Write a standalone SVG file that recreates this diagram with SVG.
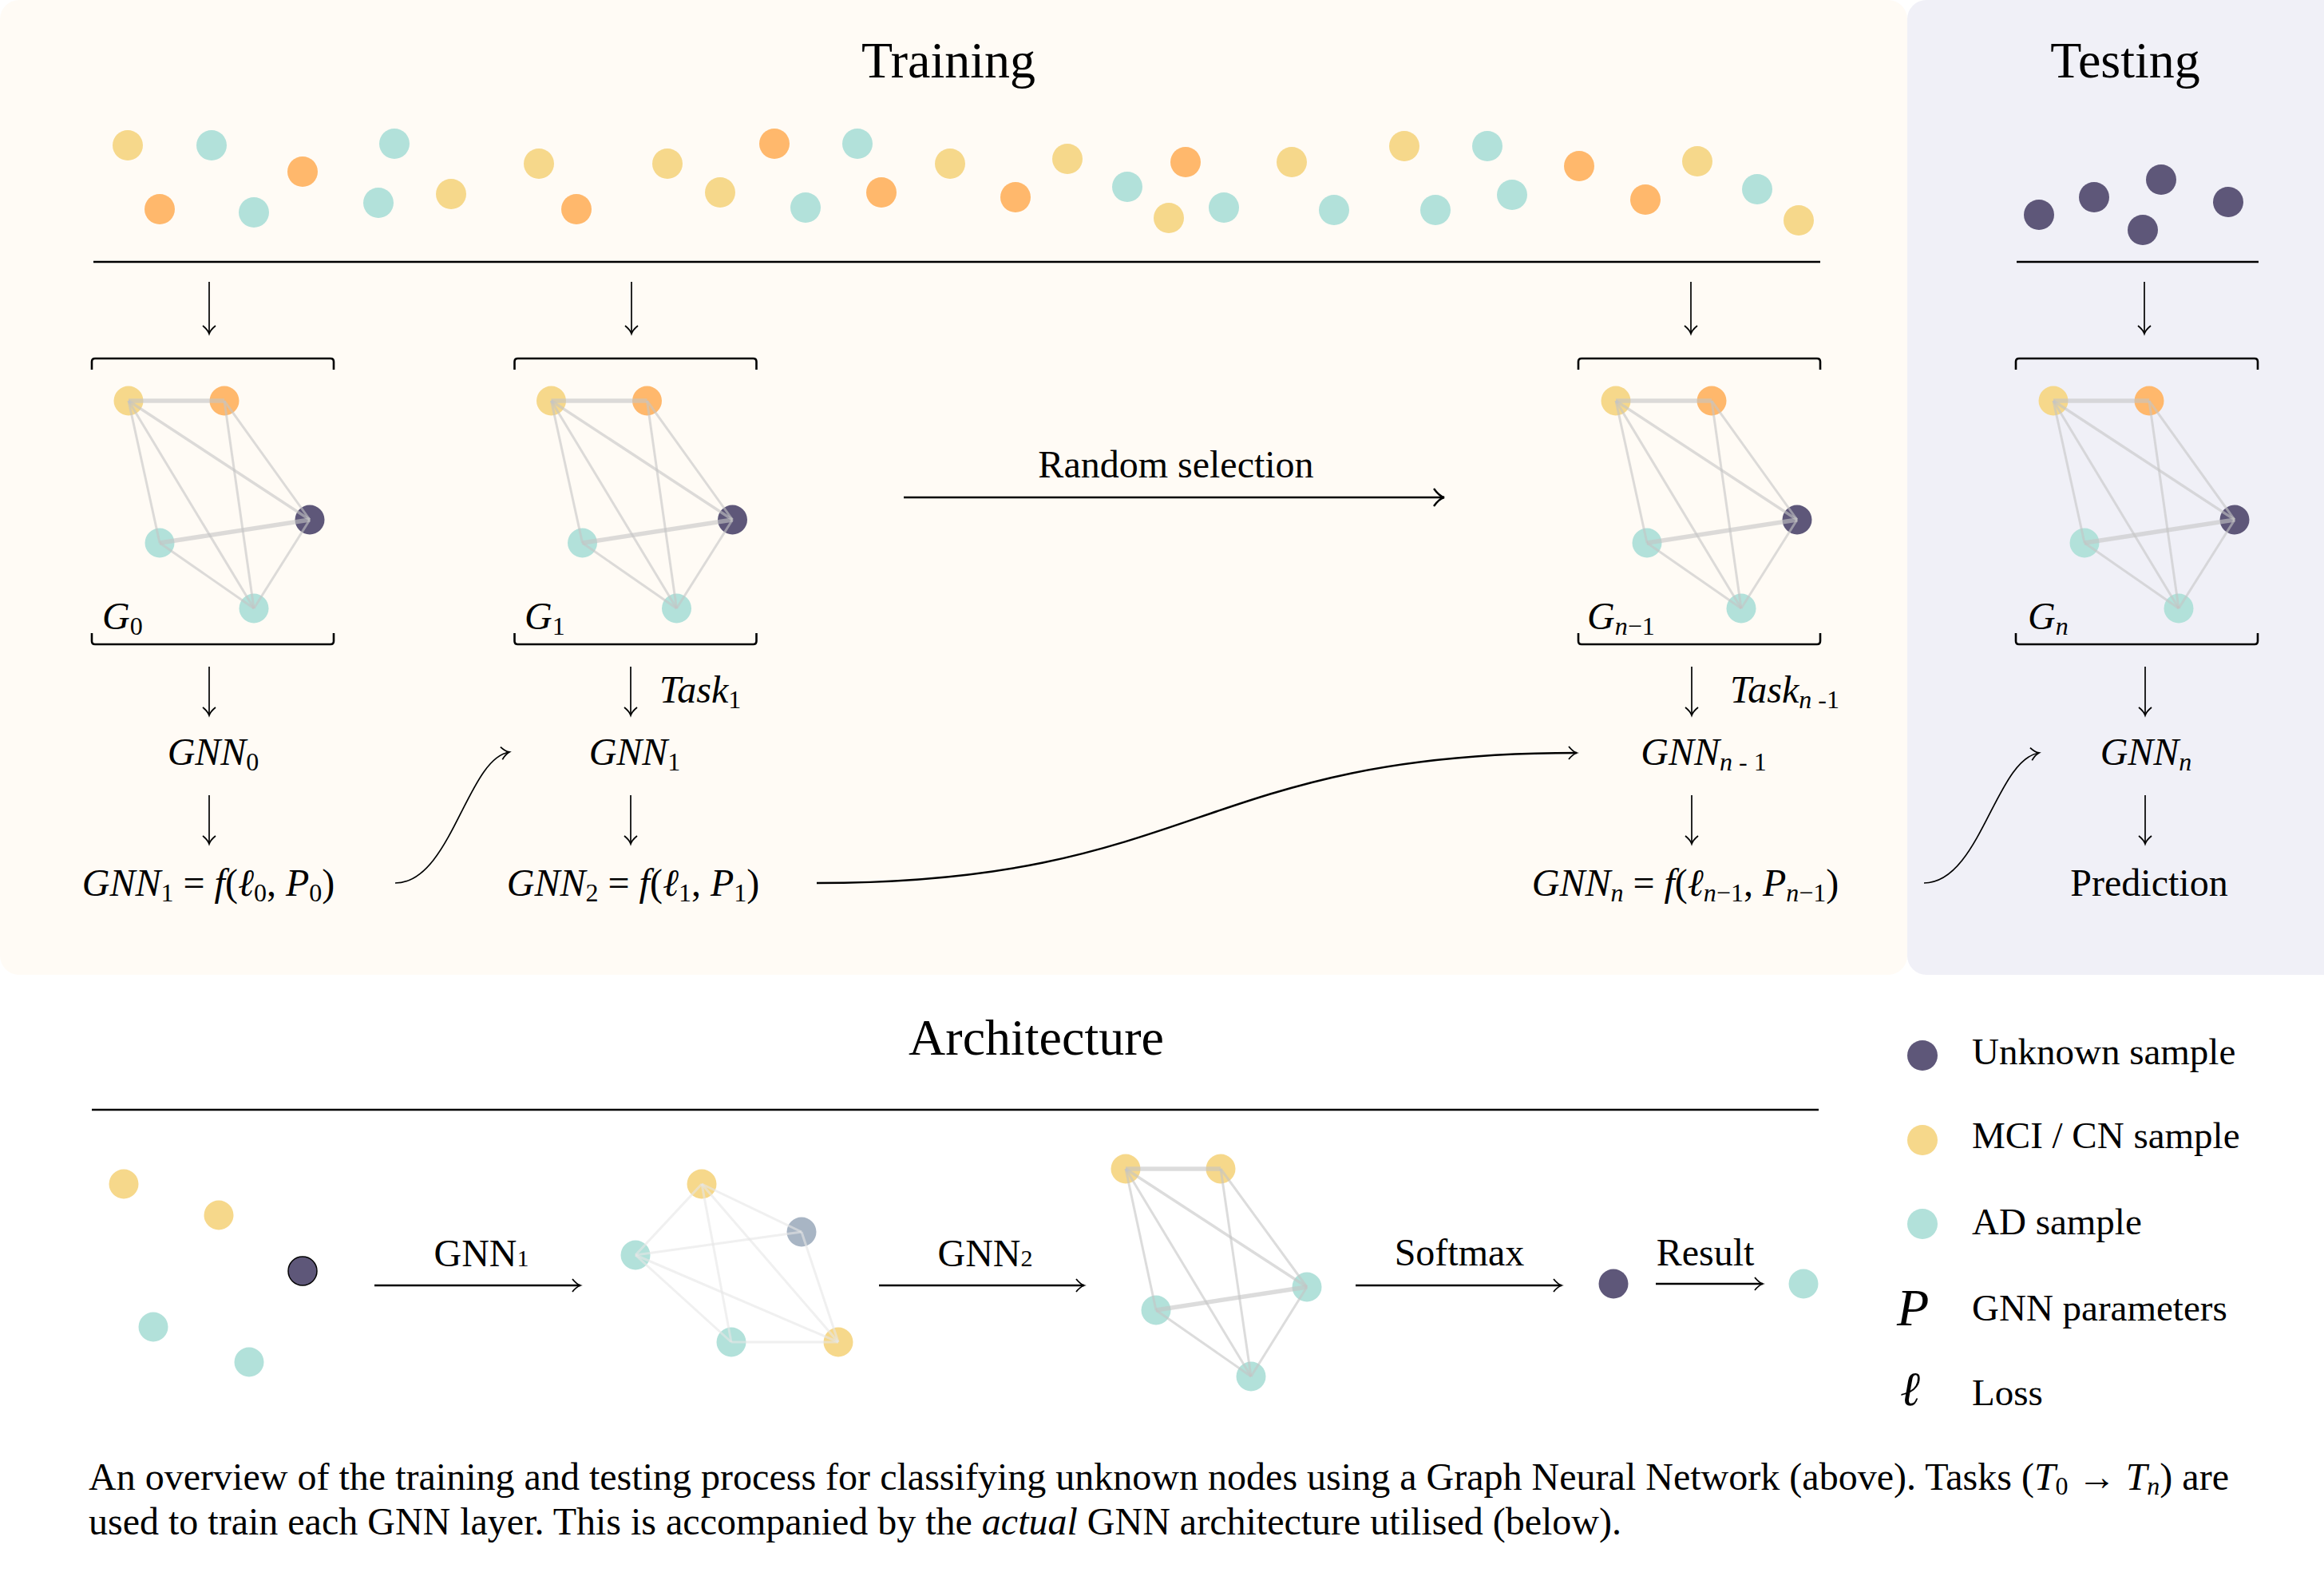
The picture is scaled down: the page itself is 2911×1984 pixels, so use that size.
<svg xmlns="http://www.w3.org/2000/svg" xmlns:xlink="http://www.w3.org/1999/xlink" width="2911" height="1984" viewBox="0 0 2911 1984">
<defs>
<style>
.t{font-family:"Liberation Serif","DejaVu Serif",serif;fill:#000}
.mi{font-style:italic}
.title{font-size:64px}
.txt{font-size:48px}
.lg{font-size:47px}
.cap{font-size:48px}
.sub{font-size:32px;font-style:normal}
.si{font-size:32px;font-style:italic}
.y{fill:#f6d88b}
.o{fill:#ffb86c}
.c{fill:#b2e1da}
.d{fill:#5e5779}
.gb{fill:#a8b5c4}
.e{stroke:#c4c4c4;stroke-opacity:.6;stroke-width:3;fill:none}
.ew{stroke-width:5.5}
.em{stroke-width:3.5}
.ef{stroke:#e6e6e6;stroke-opacity:.6;stroke-width:3;fill:none}
.rule{stroke:#000;stroke-width:2.6;fill:none}
.ar{stroke:#000;stroke-width:1.7;fill:none}
.ar2{stroke:#000;stroke-width:2.5;fill:none}
.br{stroke:#000;stroke-width:2.6;fill:none}
</style>
<marker id="ah" markerUnits="userSpaceOnUse" markerWidth="30" markerHeight="30" viewBox="-15 -15 30 30" refX="0" refY="0" orient="auto" overflow="visible">
<path d="M-10,-8 C-6,-3 -3,-1 0,0 C-3,1 -6,3 -10,8" stroke="#000" stroke-width="1.8" fill="none"/>
</marker>
<marker id="ahL" markerUnits="userSpaceOnUse" markerWidth="30" markerHeight="30" viewBox="-15 -15 30 30" refX="0" refY="0" orient="auto" overflow="visible">
<path d="M-13,-11 C-8,-4 -4,-1 0,0 C-4,1 -8,4 -13,11" stroke="#000" stroke-width="2.4" fill="none"/>
</marker>
<g id="graph">
<circle class="y" cx="0" cy="0" r="18.5"/>
<circle class="o" cx="120" cy="0" r="18.5"/>
<circle class="d" cx="227" cy="149" r="18.5"/>
<circle class="c" cx="39" cy="178" r="18.5"/>
<circle class="c" cx="157" cy="260" r="18.5"/>
<path class="e ew" d="M0,0 L120,0"/>
<path class="e" d="M0,0 L39,178"/>
<path class="e" d="M0,0 L157,260"/>
<path class="e em" d="M0,0 L227,149"/>
<path class="e" d="M120,0 L157,260"/>
<path class="e" d="M120,0 L227,149"/>
<path class="e ew" d="M39,178 L227,149"/>
<path class="e" d="M39,178 L157,260"/>
<path class="e" d="M227,149 L157,260"/>
</g>
<g id="brk">
<path class="br" d="M0,14 V4 Q0,0 4,0 H299 Q303,0 303,4 V14"/>
<path class="br" d="M0,344 V354 Q0,358 4,358 H299 Q303,358 303,354 V344"/>
</g>
</defs>

<!-- panels -->
<rect id="training-panel" x="0" y="0" width="2389" height="1221" rx="24" fill="#fffbf5"/>
<rect id="testing-panel" x="2389" y="0" width="2522" height="1221" rx="24" fill="#f0f0f7"/>

<text class="t title" x="1188" y="97" text-anchor="middle">Training</text>
<text class="t title" x="2662" y="97" text-anchor="middle">Testing</text>

<!-- training samples -->
<g id="training-samples">
<circle class="y" cx="160" cy="182" r="19"/>
<circle class="c" cx="265" cy="182" r="19"/>
<circle class="o" cx="379" cy="215" r="19"/>
<circle class="c" cx="494" cy="180" r="19"/>
<circle class="o" cx="200" cy="262" r="19"/>
<circle class="c" cx="318" cy="266" r="19"/>
<circle class="c" cx="474" cy="254" r="19"/>
<circle class="y" cx="565" cy="243" r="19"/>
<circle class="y" cx="675" cy="205" r="19"/>
<circle class="o" cx="722" cy="262" r="19"/>
<circle class="y" cx="836" cy="205" r="19"/>
<circle class="y" cx="902" cy="241" r="19"/>
<circle class="o" cx="970" cy="180" r="19"/>
<circle class="c" cx="1074" cy="180" r="19"/>
<circle class="c" cx="1009" cy="260" r="19"/>
<circle class="o" cx="1104" cy="241" r="19"/>
<circle class="y" cx="1190" cy="205" r="19"/>
<circle class="o" cx="1272" cy="247" r="19"/>
<circle class="y" cx="1337" cy="199" r="19"/>
<circle class="c" cx="1412" cy="234" r="19"/>
<circle class="o" cx="1485" cy="203" r="19"/>
<circle class="y" cx="1464" cy="273" r="19"/>
<circle class="c" cx="1533" cy="260" r="19"/>
<circle class="y" cx="1618" cy="203" r="19"/>
<circle class="c" cx="1671" cy="263" r="19"/>
<circle class="y" cx="1759" cy="183" r="19"/>
<circle class="c" cx="1863" cy="183" r="19"/>
<circle class="c" cx="1798" cy="263" r="19"/>
<circle class="c" cx="1894" cy="244" r="19"/>
<circle class="o" cx="1978" cy="208" r="19"/>
<circle class="o" cx="2061" cy="250" r="19"/>
<circle class="y" cx="2126" cy="202" r="19"/>
<circle class="c" cx="2201" cy="237" r="19"/>
<circle class="y" cx="2253" cy="276" r="19"/>
</g>
<g id="testing-samples">
<circle class="d" cx="2554" cy="269" r="19"/>
<circle class="d" cx="2623" cy="247" r="19"/>
<circle class="d" cx="2707" cy="225" r="19"/>
<circle class="d" cx="2684" cy="288" r="19"/>
<circle class="d" cx="2791" cy="253" r="19"/>
</g>
<path class="rule" d="M117,328 H2280"/>
<path class="rule" d="M2526,328 H2829"/>

<!-- graphs -->
<g id="G0">
<use xlink:href="#brk" x="115" y="449"/>
<use xlink:href="#graph" x="161" y="502"/>
<text class="t txt mi" x="128" y="788">G<tspan class="sub" dy="7">0</tspan></text>
</g>
<g id="G1">
<use xlink:href="#brk" x="644.5" y="449"/>
<use xlink:href="#graph" x="690.5" y="502"/>
<text class="t txt mi" x="657" y="788">G<tspan class="sub" dy="7">1</tspan></text>
</g>
<g id="Gn-1">
<use xlink:href="#brk" x="1977" y="449"/>
<use xlink:href="#graph" x="2024" y="502"/>
<text class="t txt mi" x="1988" y="788">G<tspan class="si" dy="7">n</tspan><tspan class="sub">−1</tspan></text>
</g>
<g id="Gn">
<use xlink:href="#brk" x="2525" y="449"/>
<use xlink:href="#graph" x="2572" y="502"/>
<text class="t txt mi" x="2540" y="788">G<tspan class="si" dy="7">n</tspan></text>
</g>

<!-- training / testing labels -->
<g id="gnn0"><text class="t txt mi" x="267" y="958" text-anchor="middle">GNN<tspan class="sub" dy="7">0</tspan></text></g>
<g id="gnn1"><text class="t txt mi" x="795" y="958" text-anchor="middle">GNN<tspan class="sub" dy="7">1</tspan></text></g>
<g id="gnnn-1"><text class="t txt mi" x="2134" y="958" text-anchor="middle">GNN<tspan class="si" dy="7">n</tspan><tspan class="sub"> - 1</tspan></text></g>
<g id="gnnn"><text class="t txt mi" x="2688" y="958" text-anchor="middle">GNN<tspan class="si" dy="7">n</tspan></text></g>
<g id="task1"><text class="t txt mi" x="826" y="880">Task<tspan class="sub" dy="7">1</tspan></text></g>
<g id="taskn-1"><text class="t txt mi" x="2167" y="880">Task<tspan class="si" dy="7">n</tspan><tspan class="sub"> -1</tspan></text></g>
<g id="eq0"><text class="t txt" x="261" y="1122" text-anchor="middle"><tspan class="mi">GNN</tspan><tspan class="sub" dy="7">1</tspan><tspan dy="-7"> = </tspan><tspan class="mi">f</tspan>(<tspan class="mi">ℓ</tspan><tspan class="sub" dy="7">0</tspan><tspan dy="-7">, </tspan><tspan class="mi">P</tspan><tspan class="sub" dy="7">0</tspan><tspan dy="-7">)</tspan></text></g>
<g id="eq1"><text class="t txt" x="793" y="1122" text-anchor="middle"><tspan class="mi">GNN</tspan><tspan class="sub" dy="7">2</tspan><tspan dy="-7"> = </tspan><tspan class="mi">f</tspan>(<tspan class="mi">ℓ</tspan><tspan class="sub" dy="7">1</tspan><tspan dy="-7">, </tspan><tspan class="mi">P</tspan><tspan class="sub" dy="7">1</tspan><tspan dy="-7">)</tspan></text></g>
<g id="eqn"><text class="t txt" x="2111" y="1122" text-anchor="middle"><tspan class="mi">GNN</tspan><tspan class="si" dy="7">n</tspan><tspan dy="-7"> = </tspan><tspan class="mi">f</tspan>(<tspan class="mi">ℓ</tspan><tspan class="si" dy="7">n</tspan><tspan class="sub">−1</tspan><tspan dy="-7">, </tspan><tspan class="mi">P</tspan><tspan class="si" dy="7">n</tspan><tspan class="sub">−1</tspan><tspan dy="-7">)</tspan></text></g>
<g id="prediction"><text class="t txt" x="2692" y="1122" text-anchor="middle">Prediction</text></g>
<g id="random-selection"><text class="t txt" x="1473" y="598" text-anchor="middle">Random selection</text></g>

<!-- connectors -->
<g id="connectors">
<path class="ar" d="M262,353 V418" marker-end="url(#ah)"/>
<path class="ar" d="M791,353 V418" marker-end="url(#ah)"/>
<path class="ar" d="M2118,353 V418" marker-end="url(#ah)"/>
<path class="ar" d="M2686,353 V418" marker-end="url(#ah)"/>
<path class="ar" d="M262,835 V896" marker-end="url(#ah)"/>
<path class="ar" d="M790,835 V896" marker-end="url(#ah)"/>
<path class="ar" d="M2119,835 V896" marker-end="url(#ah)"/>
<path class="ar" d="M2687,835 V896" marker-end="url(#ah)"/>
<path class="ar" d="M262,996 V1057" marker-end="url(#ah)"/>
<path class="ar" d="M790,996 V1057" marker-end="url(#ah)"/>
<path class="ar" d="M2119,996 V1057" marker-end="url(#ah)"/>
<path class="ar" d="M2687,996 V1057" marker-end="url(#ah)"/>
<path class="ar" d="M495,1106 C565,1106 585,950 638,942" marker-end="url(#ah)"/>
<path class="ar2" d="M1023,1106 C1500,1106 1500,943 1975,943" marker-end="url(#ah)"/>
<path class="ar" d="M2410,1106 C2480,1106 2500,951 2554,943" marker-end="url(#ah)"/>
<path class="ar2" d="M1132,623 H1809" marker-end="url(#ahL)"/>
<path class="ar2" d="M469,1610 H727" marker-end="url(#ah)"/>
<path class="ar2" d="M1101,1610 H1358" marker-end="url(#ah)"/>
<path class="ar2" d="M1698,1610 H1956" marker-end="url(#ah)"/>
<path class="ar2" d="M2074,1608 H2208" marker-end="url(#ah)"/>
</g>

<!-- architecture -->
<text class="t title" x="1298" y="1321" text-anchor="middle">Architecture</text>
<path class="rule" d="M115,1390 H2278"/>
<g id="arch-input">
<circle class="y" cx="155" cy="1483" r="18.5"/>
<circle class="y" cx="274" cy="1522" r="18.5"/>
<circle class="d" cx="379" cy="1592" r="18" stroke="#000" stroke-width="1.5"/>
<circle class="c" cx="192" cy="1662" r="18.5"/>
<circle class="c" cx="312" cy="1706" r="18.5"/>
</g>
<g id="arch-gnn1-label"><text class="t txt" x="603" y="1586" text-anchor="middle">GNN<tspan font-size="30">1</tspan></text></g>
<g id="arch-graph1">
<circle class="y" cx="879" cy="1483" r="18.5"/>
<circle class="gb" cx="1004" cy="1543" r="18.5"/>
<circle class="c" cx="796" cy="1572" r="18.5"/>
<circle class="c" cx="916" cy="1681" r="18.5"/>
<circle class="y" cx="1050" cy="1681" r="18.5"/>
<path class="ef" d="M879,1483 L1004,1543"/>
<path class="ef" d="M879,1483 L796,1572"/>
<path class="ef" d="M879,1483 L916,1681"/>
<path class="ef" d="M879,1483 L1050,1681"/>
<path class="ef" stroke-width="5" d="M796,1572 L1004,1543"/>
<path class="ef" stroke-width="4.5" d="M796,1572 L1050,1681"/>
<path class="ef" d="M796,1572 L916,1681"/>
<path class="ef" stroke-width="5" d="M916,1681 L1050,1681"/>
<path class="ef" d="M1004,1543 L1050,1681"/>
</g>
<g id="arch-gnn2-label"><text class="t txt" x="1234" y="1586" text-anchor="middle">GNN<tspan font-size="30">2</tspan></text></g>
<g id="arch-graph2">
<circle class="y" cx="1410" cy="1464" r="18.5"/>
<circle class="y" cx="1529" cy="1464" r="18.5"/>
<circle class="c" cx="1637" cy="1612" r="18.5"/>
<circle class="c" cx="1448" cy="1641" r="18.5"/>
<circle class="c" cx="1567" cy="1724" r="18.5"/>
<path class="e ew" d="M1410,1464 L1529,1464"/>
<path class="e" d="M1410,1464 L1448,1641"/>
<path class="e" d="M1410,1464 L1567,1724"/>
<path class="e em" d="M1410,1464 L1637,1612"/>
<path class="e" d="M1529,1464 L1567,1724"/>
<path class="e" d="M1529,1464 L1637,1612"/>
<path class="e ew" d="M1448,1641 L1637,1612"/>
<path class="e" d="M1448,1641 L1567,1724"/>
<path class="e" d="M1637,1612 L1567,1724"/>
</g>
<g id="arch-softmax-label"><text class="t txt" x="1828" y="1585" text-anchor="middle">Softmax</text></g>
<g id="arch-unknown"><circle class="d" cx="2021" cy="1608" r="18.5"/></g>
<g id="arch-result-label"><text class="t txt" x="2136" y="1585" text-anchor="middle">Result</text></g>
<g id="arch-result"><circle class="c" cx="2259" cy="1608" r="18.5"/></g>

<!-- legend -->
<g id="legend">
<circle class="d" cx="2408" cy="1322" r="19"/>
<text class="t lg" x="2470" y="1333">Unknown sample</text>
<circle class="y" cx="2408" cy="1428" r="19"/>
<text class="t lg" x="2470" y="1438">MCI / CN sample</text>
<circle class="c" cx="2408" cy="1533" r="19"/>
<text class="t lg" x="2470" y="1546">AD sample</text>
<text class="t mi" font-size="66" x="2376" y="1660">P</text>
<text class="t lg" x="2470" y="1654">GNN parameters</text>
<text class="t mi" font-size="60" x="2380" y="1760">ℓ</text>
<text class="t lg" x="2470" y="1760">Loss</text>
</g>

<!-- caption -->
<g id="caption">
<text class="t cap" x="111" y="1866" textLength="2681" lengthAdjust="spacing">An overview of the training and testing process for classifying unknown nodes using a Graph Neural Network (above). Tasks (<tspan class="mi">T</tspan><tspan class="sub" dy="6">0</tspan><tspan dy="-6"> → </tspan><tspan class="mi">T</tspan><tspan class="si" dy="6">n</tspan><tspan dy="-6">) are</tspan></text>
<text class="t cap" x="111" y="1922" textLength="1920" lengthAdjust="spacing">used to train each GNN layer. This is accompanied by the <tspan class="mi">actual</tspan> GNN architecture utilised (below).</text>
</g>
</svg>
